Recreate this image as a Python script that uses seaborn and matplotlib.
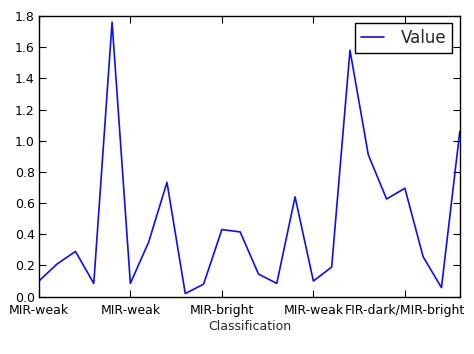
import matplotlib
matplotlib.use("Agg")
import matplotlib.pyplot as plt
import seaborn as sns
import pandas as pd
import numpy as np

values = [0.10, 0.21, 0.29, 0.085, 1.76, 0.085, 0.35, 0.733, 0.02, 0.08,
          0.43, 0.415, 0.145, 0.085, 0.64, 0.10, 0.19, 1.58, 0.91, 0.626,
          0.695, 0.255, 0.058, 1.058]
tick_labels = ["MIR-weak", "MIR-weak", "MIR-bright", "MIR-weak", "FIR-dark/MIR-bright"]
x_label = "Classification"
series_name = "Value"

sns.set_style("white", rc={
    "xtick.direction": "in", "ytick.direction": "in",
    "xtick.top": True, "ytick.right": True,
    "xtick.bottom": True, "ytick.left": True,
    "axes.edgecolor": "black", "axes.linewidth": 1.0,
})
plt.rcParams["font.family"] = ["DejaVu Sans"]

df = pd.DataFrame({"idx": np.arange(len(values)), series_name: values})

fig = plt.figure(figsize=(4.74, 3.54), dpi=100)
ax = fig.add_axes([0.082, 0.162, 0.888, 0.793])
sns.lineplot(data=df, x="idx", y=series_name, ax=ax, color="#0c0cff",
             linewidth=1.2, label=series_name)

ax.set_xlim(0, len(values) - 1)
ax.set_ylim(0, 1.8)
ax.set_yticks(np.arange(0, 1.81, 0.2))
ax.set_yticklabels([f"{v:.1f}" for v in np.arange(0, 1.81, 0.2)])
ax.set_xticks(np.arange(0, len(values), 5)[:len(tick_labels)])
ax.set_xticklabels(tick_labels)
ax.tick_params(axis="both", which="major", direction="in", length=5, width=0.8,
               labelsize=9, colors="black", pad=3, top=True, right=True)
ax.tick_params(axis="x", pad=5.5)
ax.set_xlabel(x_label, fontsize=9, labelpad=2)
ax.set_ylabel("")
for s in ax.spines.values():
    s.set_visible(True)
    s.set_color("black")
    s.set_linewidth(1.0)

leg = ax.legend(loc="upper right", fontsize=12, fancybox=False, frameon=True,
                edgecolor="black", framealpha=1, handlelength=1.4,
                handletextpad=1.0, borderpad=0.35, borderaxespad=0.45)
leg.get_frame().set_linewidth(1.0)

fig.savefig("out.png", dpi=100, facecolor="white")
